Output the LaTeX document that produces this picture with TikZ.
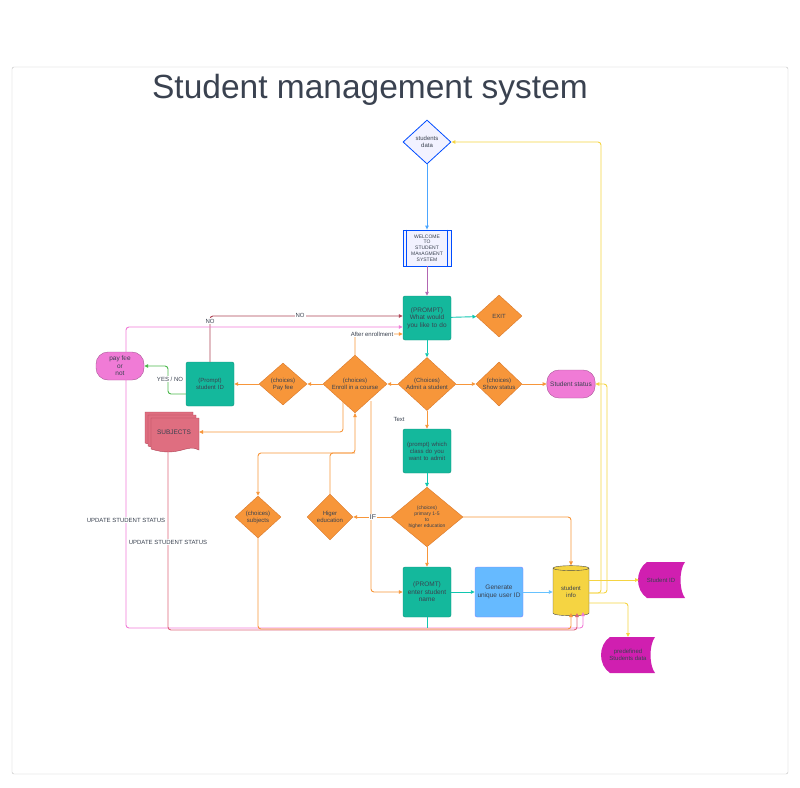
\documentclass[tikz,border=0pt]{standalone}
\usepackage{fontspec}
\setmainfont{Liberation Sans}
\usetikzlibrary{shapes.geometric,arrows.meta}
\definecolor{org}{HTML}{F7963A}
\definecolor{orgd}{HTML}{D9782A}
\definecolor{teal}{HTML}{14B89C}
\definecolor{txt}{HTML}{3A4250}
\definecolor{pinkl}{HTML}{F07BD6}
\definecolor{redl}{HTML}{D9546A}
\definecolor{yel}{HTML}{F5D442}
\definecolor{mag}{HTML}{D01FB0}
\begin{document}
\begin{tikzpicture}[x=1pt,y=-1pt,font=\fontsize{6}{7}\selectfont,text=txt,
  box/.style={rectangle,rounded corners=2pt,minimum width=48pt,minimum height=44pt,align=center,inner sep=1pt,text width=46pt},
  tbox/.style={box,fill=teal,draw=teal!80!black},
  dia/.style={diamond,fill=org,draw=orgd,align=center,inner sep=0pt},
  pill/.style={rectangle,rounded corners=12pt,fill=pinkl,draw=pinkl!70!black,minimum width=48pt,minimum height=28pt,align=center},
  ar/.style={-{Triangle[length=4pt,width=3.5pt]},line width=0.9pt,rounded corners=3pt},
  lab/.style={fill=white,inner sep=1pt,font=\fontsize{6}{7}\selectfont}]
\useasboundingbox (0,0) rectangle (800,787);
\draw[gray!50,rounded corners=2pt] (12,67) rectangle (788,774);
\node[font=\fontsize{33.5}{36}\selectfont] (title) at (370,90) {Student management system};

% nodes
\node[diamond,draw=blue!70!cyan,fill=blue!5,minimum width=48pt,minimum height=44pt,inner sep=0pt,align=center,line width=0.8pt] (sd) at (427,142) {students\\data};
\node[rectangle,draw=blue!70!cyan,fill=blue!5,minimum width=48pt,minimum height=36pt,align=center,inner sep=0pt,font=\fontsize{5}{5.8}\selectfont,line width=0.8pt] (wel) at (427,248) {WELCOME\\TO\\STUDENT\\MAnAGMENT\\SYSTEM};
\draw[blue!70!cyan,line width=0.8pt] ([xshift=4pt]wel.north west)--([xshift=4pt]wel.south west) ([xshift=-4pt]wel.north east)--([xshift=-4pt]wel.south east);
\node[tbox,font=\fontsize{6.5}{7.5}\selectfont] (pr) at (427,318) {(PROMPT)\\What would\\you like to do};
\node[dia,minimum width=46pt,minimum height=42pt] (exit) at (499,316) {EXIT};
\node[dia,minimum width=58pt,minimum height=52pt] (adm) at (427,384) {(Choices)\\Admit a student};
\node[dia,minimum width=46pt,minimum height=42pt] (ss) at (499,384) {(choices)\\Show status};
\node[pill,font=\fontsize{6.5}{7.5}\selectfont] (sst) at (571,384) {Student status};
\node[dia,minimum width=64pt,minimum height=52pt] (enr) at (355,384) {(choices)\\Enroll in a course};
\node[dia,minimum width=48pt,minimum height=42pt] (pay) at (283,384) {(choices)\\Pay fee};
\node[tbox] (sid) at (210,384) {(Prompt)\\student ID};
\node[pill,font=\fontsize{6.5}{7.5}\selectfont] (pfn) at (120,366) {pay fee\\or\\not};
% subjects multidocument
\foreach \d in {6,3,0}{
 \fill[redl!85!white,draw=redl!80!black,line width=0.4pt] (148-\d+3,415-\d+3) -- (196-\d+3,415-\d+3) -- (196-\d+3,447-\d+3) .. controls (184-\d+3,440-\d+3) and (176-\d+3,455-\d+3) .. (148-\d+3,446-\d+3) -- cycle;}
\node[font=\fontsize{6.5}{7.5}\selectfont] (subj) at (174,432) {SUBJECTS};
\coordinate (subjR) at (199,432);
\coordinate (subjB) at (168,450);
\node[tbox] (pwc) at (427,451) {(prompt) which\\class do you\\want to admit};
\node[dia,minimum width=72pt,minimum height=54pt,font=\fontsize{5}{6}\selectfont] (prim) at (427,517) {(choices)\\primary 1-5\\to\\higher education};
\node[dia,minimum width=46pt,minimum height=46pt] (hig) at (330,517) {Higer\\education};
\node[dia,minimum width=46pt,minimum height=42pt] (csub) at (258,517) {(choices)\\subjects};
\node[tbox,minimum height=50pt,font=\fontsize{6.5}{7.5}\selectfont] (nam) at (427,592) {(PROMT)\\enter student\\name};
\node[box,minimum height=50pt,fill=blue!45!cyan!60!white,draw=blue!50,font=\fontsize{6.5}{7.5}\selectfont] (gen) at (499,592) {Generate\\unique user ID};
\node[cylinder,shape border rotate=90,aspect=0.25,fill=yel,draw=black!70,minimum width=36pt,minimum height=50pt,align=center,inner sep=0pt] (inf) at (571,592) {student\\info};
% stored data shapes
\fill[mag] (647,562) -- (685,562) .. controls (679,570) and (679,590) .. (685,598) -- (647,598) .. controls (635,590) and (635,570) .. (647,562) -- cycle;
\node (stid) at (661,580) {Student ID};
\coordinate (stidW) at (639,580);
\fill[mag] (610,637) -- (655,637) .. controls (649,645) and (649,665) .. (655,673) -- (610,673) .. controls (598,665) and (598,645) .. (610,637) -- cycle;
\node[align=center] (pred) at (628,655) {predefined\\Students data};

% edges
\draw[ar,blue!50!cyan!70] (sd) -- (wel);
\draw[ar,violet!60] (wel) -- (pr);
\draw[ar,teal!80!cyan] (pr) -- (exit);
\draw[ar,teal!80!cyan] (pr) -- (adm);
\draw[ar,org] (adm) -- (ss);
\draw[ar,org] (ss) -- (sst);
\draw[ar,org] (adm) -- (enr);
\draw[ar,org] (enr) -- (pay);
\draw[ar,org] (pay) -- (sid);
\draw[ar,green!60!black!70] (sid.west |- 0,394) -- (168,394) -- (168,366) -- (pfn.east);
\node[lab] at (170,379) {YES / NO};
\draw[ar,redl!80!black] (sid.north) -- (210,316) -- (pr.west |- 0,316);
\node[lab] at (210,321) {NO};
\node[lab] at (300,315) {NO};
\draw[ar,pinkl] (126,380) -- (126,327) -- (pr.west |- 0,327);
\draw[ar,pinkl] (126,380) -- (126,628) -- (583,628) -- (583,612);
\node[lab] at (126,520) {UPDATE STUDENT STATUS};
\draw[ar,redl!90] (subjB) -- (168,630) -- (577,630) -- (577,613);
\node[lab] at (168,542) {UPDATE STUDENT STATUS};
\draw[ar,org] (355,358) -- (355,334) -- (pr.west |- 0,334);
\node[lab] at (372,334) {After enrollment};
\draw[ar,org] (343,400) -- (343,432) -- (subjR);
\draw[ar,org] (hig.north) -- (330,453) -- (355,453) -- (enr.south);
\draw[ar,org] (355,453) -- (258,453) -- (csub.north);
\draw[ar,org] (371,401) -- (371,592) -- (nam.west);
\draw[ar,org] (prim) -- (hig);
\node[lab,font=\fontsize{7}{8}\selectfont] at (373,517) {IF};
\draw[ar,org] (prim) -- (nam);
\draw[ar,org] (prim.east) -- (571,517) -- (inf.north);
\draw[ar,org] (adm) -- (pwc);
\node at (399,419) {Text};
\draw[ar,teal!80!cyan] (pwc) -- (prim);
\draw[ar,teal!80!cyan] (nam) -- (gen);
\draw[ar,blue!40!cyan!60] (gen) -- (inf);
\draw[teal!80!cyan,line width=0.9pt] (nam.south) -- (427,628);
\draw[ar,org] (csub.south) -- (258,629) -- (571,629) -- (571,613);
\draw[ar,yel] (inf.east |- 0,580) -- (stidW);
\draw[ar,yel] (589,603) -- (628,603) -- (628,637);
\draw[ar,yel] (589,593) -- (601,593) -- (601,142) -- (sd.east);
\draw[ar,yel] (589,593) -- (607,593) -- (607,384) -- (sst.east);
\end{tikzpicture}
\end{document}
